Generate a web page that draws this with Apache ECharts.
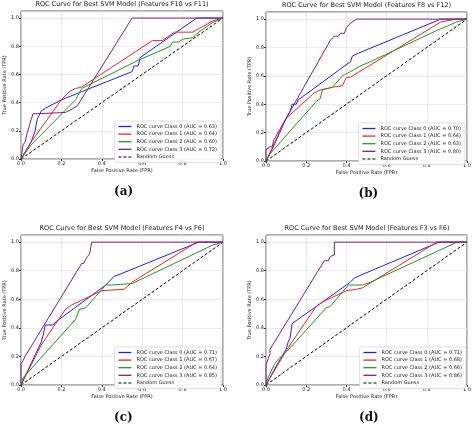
<!DOCTYPE html>
<html>
<head>
<meta charset="utf-8">
<script src="https://cdn.jsdelivr.net/npm/echarts@6/dist/echarts.min.js"></script>
<style>
  html, body {margin: 0; padding: 0; background: #fff;}
  #chart {width: 474px; height: 424px;}
</style>
</head>
<body>
<div id="chart"></div>
<script>
// panel (a) F10 vs F11
const a0 = [[0,0],[0.02,0.05],[0.05,0.12],[0.07,0.2],[0.08,0.28],[0.09,0.31],[0.1,0.34],[0.12,0.36],[0.2,0.42],[0.55,0.62],[0.56,0.66],[0.58,0.66],[0.59,0.72],[0.87,1],[1,1]];
const a1 = [[0,0],[0.05,0.12],[0.2,0.42],[0.24,0.48],[0.27,0.5],[0.3,0.51],[0.65,0.84],[0.7,0.84],[0.76,0.9],[0.85,0.9],[0.95,0.98],[1,1]];
const a2 = [[0,0],[0.05,0.1],[0.27,0.42],[0.3,0.5],[0.58,0.7],[0.74,0.8],[0.75,0.83],[0.78,0.83],[0.8,0.85],[0.85,0.86],[0.88,0.9],[0.95,0.97],[1,1]];
const a3 = [[0,0],[0.01,0.1],[0.02,0.12],[0.03,0.18],[0.04,0.23],[0.05,0.28],[0.06,0.32],[0.22,0.33],[0.26,0.36],[0.28,0.38],[0.55,1],[1,1]];
// panel (b) F8 vs F12
const b0 = [[0,0],[0.03,0.08],[0.1,0.3],[0.12,0.35],[0.13,0.4],[0.15,0.4],[0.16,0.43],[0.42,0.7],[0.43,0.74],[0.46,0.76],[0.87,1],[1,1]];
const b1 = [[0,0],[0.1,0.3],[0.24,0.48],[0.27,0.5],[0.3,0.51],[0.33,0.52],[0.38,0.53],[0.4,0.59],[0.42,0.59],[0.87,0.98],[0.95,1],[1,1]];
const b2 = [[0,0],[0.02,0.05],[0.25,0.42],[0.27,0.44],[0.28,0.5],[0.33,0.52],[0.38,0.6],[0.42,0.63],[0.47,0.67],[0.52,0.7],[0.85,0.92],[0.9,0.95],[0.95,0.98],[1,1]];
const b3 = [[0,0],[0,0.08],[0.02,0.1],[0.03,0.1],[0.04,0.15],[0.32,0.85],[0.34,0.88],[0.36,0.88],[0.37,0.9],[0.39,0.9],[0.4,0.94],[0.42,0.97],[0.45,1],[1,1]];
// panel (c) F4 vs F6
const c0 = [[0,0],[0.05,0.15],[0.1,0.3],[0.11,0.35],[0.12,0.42],[0.16,0.42],[0.17,0.44],[0.42,0.7],[0.46,0.76],[0.48,0.77],[0.88,1],[1,1]];
const c1 = [[0,0],[0.1,0.28],[0.22,0.53],[0.25,0.56],[0.4,0.66],[0.51,0.67],[0.55,0.72],[0.87,1],[1,1]];
const c2 = [[0,0],[0.01,0.05],[0.27,0.46],[0.29,0.53],[0.32,0.54],[0.37,0.62],[0.42,0.7],[0.45,0.7],[0.55,0.71],[0.95,0.98],[1,1]];
const c3 = [[0,0],[0,0.15],[0.01,0.17],[0.02,0.2],[0.3,0.85],[0.31,0.85],[0.32,0.88],[0.33,0.9],[0.34,0.92],[0.35,1],[1,1]];
// panel (d) F3 vs F6
const d0 = [[0,0],[0.05,0.13],[0.1,0.25],[0.11,0.3],[0.12,0.33],[0.13,0.43],[0.42,0.72],[0.44,0.75],[0.86,1],[1,1]];
const d1 = [[0,0],[0.1,0.24],[0.25,0.55],[0.27,0.57],[0.28,0.58],[0.4,0.66],[0.45,0.67],[0.48,0.68],[0.85,1],[1,1]];
const d2 = [[0,0],[0.01,0.05],[0.04,0.14],[0.06,0.18],[0.1,0.23],[0.3,0.54],[0.32,0.55],[0.41,0.7],[0.48,0.7],[0.52,0.72],[0.95,1],[1,1]];
const d3 = [[0,0],[0,0.14],[0.01,0.18],[0.02,0.22],[0.02,0.25],[0.29,0.87],[0.31,0.87],[0.32,0.9],[0.34,0.91],[0.34,1],[1,1]];

const diag = [[0,0],[1,1]];
const tickLabels = ['0.0','0.2','0.4','0.6','0.8','1.0'];
const classColors = ['#1f1fff','#ff1f1f','#1f9a1f','#7a1f8a'];

const panels = [
  {title: 'F10 vs F11', auc: ['0.63','0.64','0.60','0.72'], curves: [a0,a1,a2,a3], tag: '(a)', left: 21, top: 11, width: 202, height: 148},
  {title: 'F8 vs F12', auc: ['0.70','0.64','0.63','0.80'], curves: [b0,b1,b2,b3], tag: '(b)', left: 266, top: 12, width: 201, height: 149},
  {title: 'F4 vs F6', auc: ['0.71','0.67','0.64','0.85'], curves: [c0,c1,c2,c3], tag: '(c)', left: 21, top: 235, width: 202, height: 150},
  {title: 'F3 vs F6', auc: ['0.71','0.68','0.66','0.86'], curves: [d0,d1,d2,d3], tag: '(d)', left: 266, top: 235, width: 202, height: 150},
];

const grid = [], xAxis = [], yAxis = [], series = [], title = [], legend = [], graphic = [];
panels.forEach((p, i) => {
  grid.push({left: p.left, top: p.top, width: p.width, height: p.height, show: true, borderColor: '#333', borderWidth: 0.8});
  xAxis.push({
    type: 'value', gridIndex: i, min: 0, max: 1, interval: 0.2,
    name: 'False Positive Rate (FPR)', nameLocation: 'middle', nameGap: 9,
    nameTextStyle: {fontSize: 5, color: '#222'},
    axisLine: {show: false}, axisTick: {show: true, length: 2, lineStyle: {color: '#333'}},
    axisLabel: {fontSize: 5, color: '#222', margin: 2, formatter: v => tickLabels[Math.round(v * 5)]},
    splitLine: {lineStyle: {color: '#ddd', width: 0.6}}
  });
  yAxis.push({
    type: 'value', gridIndex: i, min: 0, max: 1.05, interval: 0.2,
    name: 'True Positive Rate (TPR)', nameLocation: 'middle', nameGap: 11, nameRotate: 90,
    nameTextStyle: {fontSize: 5, color: '#222'},
    axisLine: {show: false}, axisTick: {show: true, length: 2, lineStyle: {color: '#333'}},
    axisLabel: {fontSize: 5, color: '#222', margin: 2, showMaxLabel: false,
      formatter: v => v > 1.01 ? '' : tickLabels[Math.round(v * 5)]},
    splitLine: {lineStyle: {color: '#ddd', width: 0.6}}
  });
  title.push({
    text: 'ROC Curve for Best SVM Model (Features ' + p.title + ')',
    left: p.left + p.width / 2, top: p.top - 10, textAlign: 'center', padding: 0,
    textStyle: {fontSize: 6.5, fontWeight: 'normal', color: '#222'}
  });
  const names = [];
  p.curves.forEach((c, k) => {
    const name = 'ROC curve Class ' + k + ' (AUC = ' + p.auc[k] + ')';
    names.push({name: name, icon: 'rect', itemStyle: {color: classColors[k]}});
    series.push({type: 'line', name: name, xAxisIndex: i, yAxisIndex: i, data: c,
      symbol: 'none', lineStyle: {width: 1, color: classColors[k]}, itemStyle: {color: classColors[k]}, silent: true});
  });
  series.push({type: 'line', name: 'Random Guess', xAxisIndex: i, yAxisIndex: i, data: diag,
    symbol: 'none', lineStyle: {width: 1, color: '#000', type: [3, 2]}, itemStyle: {color: '#000'}, z: 1, silent: true});
  names.push({name: 'Random Guess', icon: 'path://M0,0 H3 V1 H0 Z M5,0 H8 V1 H5 Z M10,0 H13 V1 H10 Z'});
  legend.push({
    data: names, orient: 'vertical', right: 474 - (p.left + p.width) + 2, top: p.top + p.height - 38,
    itemWidth: 13, itemHeight: 1.3, itemGap: 2.6, padding: [3, 4],
    backgroundColor: 'rgba(255,255,255,0.9)', borderColor: '#ccc', borderWidth: 0.6, borderRadius: 2,
    textStyle: {fontSize: 5, color: '#222'}, selectedMode: false
  });
  graphic.push({type: 'text', left: p.left + p.width / 2 - 8, top: p.top + p.height + 27,
    style: {text: p.tag, font: 'bold 12px "DejaVu Serif", serif', fill: '#111'}});
});

const chart = echarts.init(document.getElementById('chart'));
chart.setOption({
  animation: false,
  textStyle: {fontFamily: 'DejaVu Sans'},
  title, grid, xAxis, yAxis, legend, series, graphic
});
</script>
</body>
</html>
